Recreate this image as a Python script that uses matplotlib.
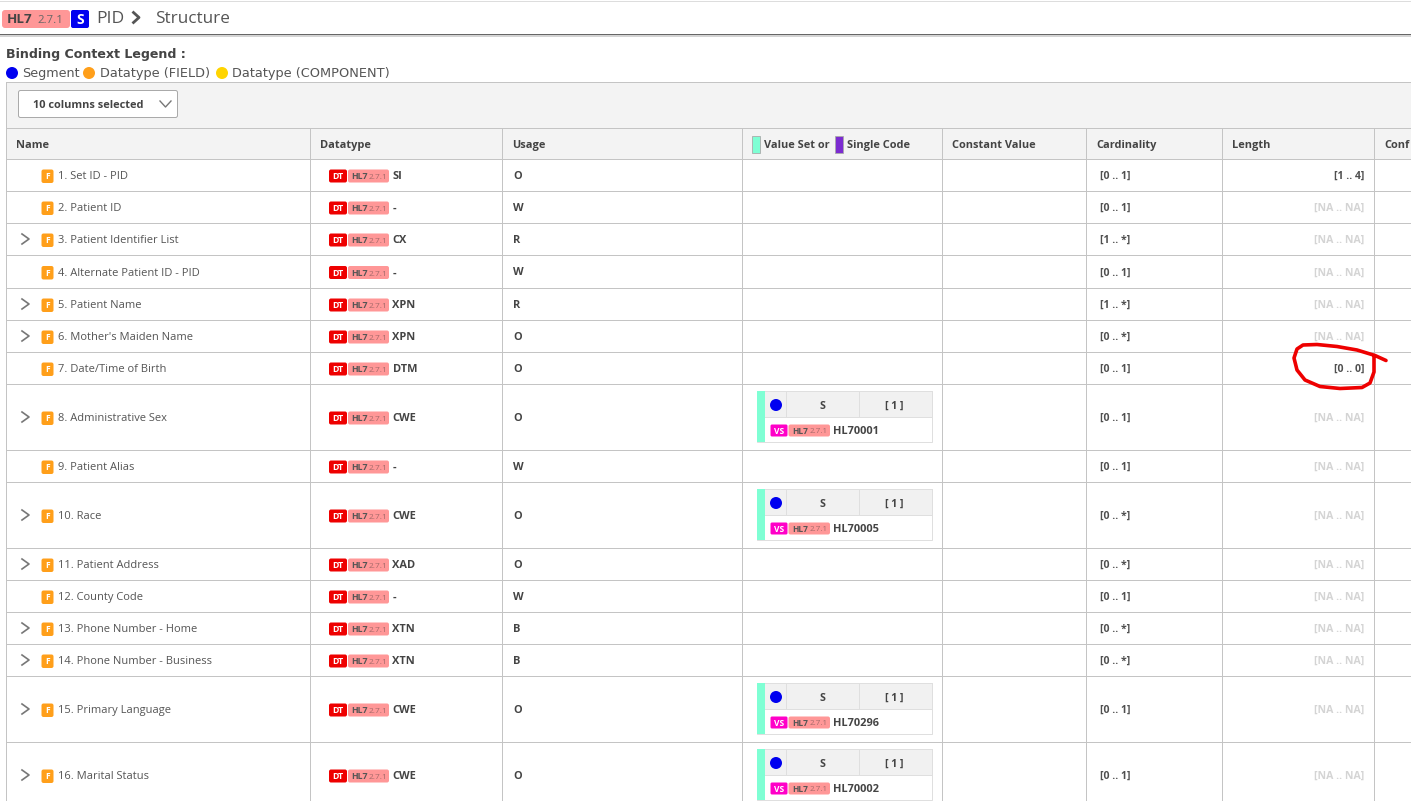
#!/usr/bin/env python3

import matplotlib
matplotlib.use('Agg')
import matplotlib.pyplot as plt
from matplotlib.patches import Rectangle, FancyBboxPatch, Circle

plt.rcParams['font.family'] = ['Open Sans', 'DejaVu Sans']

# table data
names = ["1. Set ID - PID", "2. Patient ID", "3. Patient Identifier List",
         "4. Alternate Patient ID - PID", "5. Patient Name", "6. Mother's Maiden Name",
         "7. Date/Time of Birth", "8. Administrative Sex", "9. Patient Alias", "10. Race",
         "11. Patient Address", "12. County Code", "13. Phone Number - Home",
         "14. Phone Number - Business", "15. Primary Language", "16. Marital Status"]
datatypes = ["SI", "-", "CX", "-", "XPN", "XPN", "DTM", "CWE", "-", "CWE", "XAD", "-",
             "XTN", "XTN", "CWE", "CWE"]
usages = ["O", "W", "R", "W", "R", "O", "O", "O", "W", "O", "O", "W", "B", "B", "O", "O"]
cardinality = ["[0 .. 1]", "[0 .. 1]", "[1 .. *]", "[0 .. 1]", "[1 .. *]", "[0 .. *]",
               "[0 .. 1]", "[0 .. 1]", "[0 .. 1]", "[0 .. *]", "[0 .. *]", "[0 .. 1]",
               "[0 .. *]", "[0 .. *]", "[0 .. 1]", "[0 .. 1]"]
lengths = ["[1 .. 4]", "[NA .. NA]", "[NA .. NA]", "[NA .. NA]", "[NA .. NA]", "[NA .. NA]",
           "[0 .. 0]", "[NA .. NA]", "[NA .. NA]", "[NA .. NA]", "[NA .. NA]", "[NA .. NA]",
           "[NA .. NA]", "[NA .. NA]", "[NA .. NA]", "[NA .. NA]"]
expandable = [0, 0, 1, 0, 1, 1, 0, 1, 0, 1, 1, 0, 1, 1, 1, 1]
value_sets = {7: "HL70001", 9: "HL70005", 14: "HL70296", 15: "HL70002"}
row_lines = [159, 191, 223, 255, 288, 320, 352, 384, 450, 482, 548, 580, 612, 644, 676, 742, 808]
col_lines = [6, 310, 502, 742, 942, 1086, 1222, 1374]
headers = ["Name", "Datatype", "Usage", None, "Constant Value", "Cardinality", "Length", "Conf"]
scribble_x = [1386, 1375, 1357, 1337, 1317, 1303, 1297, 1294, 1297, 1305, 1320, 1340, 1362, 1370, 1374, 1374]
scribble_y = [360.5, 355.5, 350, 346.5, 344.5, 345, 349, 358, 370, 380, 386.5, 388.5, 387.5, 383, 372, 357]

GRID = '#c4c4c4'
TXT = '#333333'
LW = 0.72

fig = plt.figure(figsize=(14.11, 8.01), dpi=100)
ax = fig.add_axes([0, 0, 1, 1])
ax.set_xlim(0, 1411)
ax.set_ylim(801, 0)
ax.axis('off')


def Box(x, y, w, h, color, ec='none', lw=0, z=2):
  ax.add_patch(Rectangle((x, y), w, h, fc=color, ec=ec, lw=lw, zorder=z))


def Pill(x, y, w, h, color, r=2.0, ec='none', lw=0, z=3):
  ax.add_patch(FancyBboxPatch((x + r, y + r), w - 2*r, h - 2*r, boxstyle=f"round,pad={r}",
                              fc=color, ec=ec, lw=lw, zorder=z))


def Text(x, y, s, size=8, color=TXT, weight='normal', ha='left', z=5, **kw):
  # y is the middle of the capitals, so rows don't jitter with descenders
  ax.text(x, y + 0.5*size, s, fontsize=size, color=color, weight=weight, ha=ha,
          va='baseline', zorder=z, **kw)


def Dot(x, y, r, color):
  ax.add_patch(Circle((x, y), r, fc=color, ec='none', zorder=4))


def Chevron(x, y, size=5, color='#777777', lw=1.2):
  ax.plot([x - size*0.7, x + size*0.7, x - size*0.7], [y - size, y, y + size], color=color, lw=lw, zorder=5)


def Hl7Badge(x, y, w=41, h=13):
  Pill(x, y - h/2, w, h, '#ff9797')
  Text(x + 3.5, y, "HL7", size=6.3, color='#555555', weight='bold')
  Text(x + 21, y, "2.7.1", size=6, color='#a56a6a')


# top bar
ax.plot([0, 1411], [1, 1], color='#dddddd', lw=LW)
Box(0, 34, 1411, 1.4, '#666666')
Box(0, 35.4, 1411, 1.2, '#d4d4d4')
Pill(2, 10, 68, 18, '#ff9797', r=3)
Text(6.5, 18.5, "HL7", size=9.6, color='#444444', weight='bold')
Text(37, 19, "2.7.1", size=8.2, color='#666666')
Pill(71, 10, 18, 18, '#0000f0', r=2)
Text(80, 18.5, "S", size=10, color='white', weight='bold', ha='center')
Text(96, 17, "PID", size=12.6, color='#555555')
ax.plot([133.5, 139, 133.5], [12.5, 17.5, 22.5], color='#555555', lw=2)
Text(155, 17, "Structure", size=12.3, color='#555555')

# binding legend
Text(6, 53.5, "Binding Context Legend :", size=9.1, color='#444444', weight='bold',
     fontfamily=['DejaVu Sans'])
Dot(12, 73, 6, '#0000f0')
Text(22, 72.5, "Segment", size=9.2, color='#555555', fontfamily=['DejaVu Sans'])
Dot(89, 73, 6, '#ff9f1a')
Text(100, 72.5, "Datatype (FIELD)", size=9.3, color='#555555', fontfamily=['DejaVu Sans'])
Dot(222, 73, 6, '#ffd400')
Text(232, 72.5, "Datatype (COMPONENT)", size=9.3, color='#555555', fontfamily=['DejaVu Sans'])

# toolbar and header band
Box(6, 82, 1405, 77, '#f3f3f3', z=1)
ax.plot([6, 1411], [82, 82], color=GRID, lw=LW, zorder=2)
ax.plot([6, 1411], [128, 128], color=GRID, lw=LW, zorder=2)
Pill(18.5, 90.5, 159, 27, 'white', r=2, ec='#aaaaaa', lw=LW)
Text(33, 104, "10 columns selected", size=7.9, color='#444444', weight='bold')
ax.plot([160, 165.5, 171], [101, 107, 101], color='#777777', lw=1.0, zorder=5)

# grid
for y in row_lines:
  ax.plot([6, 1411], [y, y], color=GRID, lw=LW, zorder=2)
for x in col_lines:
  ax.plot([x, x], [82 if x == 6 else 128, 801], color=GRID, lw=LW, zorder=2)

# header labels
for x, h in zip(col_lines, headers):
  if h:
    Text(x + 10, 144, h, size=7.9, color='#444444', weight='bold')
Box(752, 136, 8, 17, '#7fffd4', ec='#aaaaaa', lw=0.6)
Text(764, 144, "Value Set or", size=7.9, color='#444444', weight='bold')
Box(835, 136, 8, 17, '#7b2bd0', ec='#aaaaaa', lw=0.6)
Text(847, 144, "Single Code", size=7.9, color='#444444', weight='bold')

# rows
for i, name in enumerate(names):
  top, bot = row_lines[i], row_lines[i + 1]
  y = (top + bot) / 2
  if expandable[i]:
    Chevron(25.5, y)
  Pill(41.5, y - 5.5, 12, 13.5, '#ff9f1a', r=2)
  Text(47.5, y + 1, "F", size=6, color='white', weight='bold', ha='center')
  Text(58, y, name, size=8.05, color='#555555')
  # datatype badges
  Pill(329, y - 5.5, 18, 13, '#ee0000', r=2)
  Text(338, y + 1, "DT", size=6.3, color='white', weight='bold', ha='center')
  Hl7Badge(348, y + 1)
  Text(392.5, y, datatypes[i], size=7.9, color='#444444', weight='bold')
  Text(513, y, usages[i], size=7.9, color='#444444', weight='bold')
  Text(1100, y, cardinality[i], size=7.6, color='#505050', weight='bold')
  na = lengths[i].startswith("[NA")
  Text(1364, y, lengths[i], size=7.6, color='#d4d4d4' if na else '#505050', weight='bold', ha='right')
  if i in value_sets:
    bx, by = 756.5, top + 7
    Box(bx, by, 175, 51, 'white', ec='#dfdfdf', lw=LW, z=3)
    Box(bx, by, 175, 26, '#f1f1f1', ec='#dfdfdf', lw=LW, z=3)
    Box(bx, by, 8.5, 51, '#7fffd4', z=4)
    ax.plot([bx + 29, bx + 29], [by, by + 26], color='#dfdfdf', lw=LW, zorder=4)
    ax.plot([bx + 102, bx + 102], [by, by + 26], color='#dfdfdf', lw=LW, zorder=4)
    Dot(bx + 19.5, by + 14, 6, '#0000f0')
    Text(bx + 65.5, by + 14, "S", size=7.7, color='#444444', weight='bold', ha='center')
    Text(bx + 138, by + 14, "[ 1 ]", size=7.7, color='#444444', weight='bold', ha='center')
    Pill(bx + 14, by + 33.5, 17, 12, '#ff00c8', r=1.5, z=5)
    Text(bx + 22.5, by + 39.5, "VS", size=6, color='white', weight='bold', ha='center', z=6)
    Pill(bx + 32, by + 33.5, 41.5, 12, '#ff9797', z=5)
    Text(bx + 36, by + 39.5, "HL7", size=6, color='#555555', weight='bold', z=6)
    Text(bx + 53, by + 39.5, "2.7.1", size=5.8, color='#a56a6a', z=6)
    Text(bx + 76.5, by + 39, value_sets[i], size=7.9, color='#444444', weight='bold', z=6)

# red hand drawn circle
ax.plot(scribble_x, scribble_y, color='#ee0000', lw=2.6, zorder=7,
        solid_capstyle='round', solid_joinstyle='round')

fig.savefig("out.png", dpi=100)
